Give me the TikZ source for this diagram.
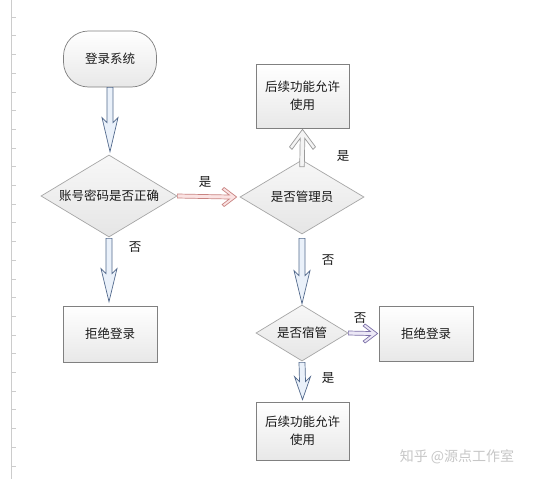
\documentclass[tikz,border=0pt]{standalone}
\usepackage{fontspec}
\newfontfamily\cjk{Noto Sans CJK SC}
\usetikzlibrary{shapes.geometric,calc}
\definecolor{boxline}{HTML}{808080}
\definecolor{dline}{HTML}{A6A6A6}
\definecolor{bluel}{HTML}{52698C}
\definecolor{bluef}{HTML}{EAF1FA}
\definecolor{redl}{HTML}{C98482}
\definecolor{redf}{HTML}{FBE3E3}
\definecolor{grayl}{HTML}{9A9A9A}
\definecolor{grayf}{HTML}{F4F4F4}
\definecolor{purl}{HTML}{7C70A8}
\definecolor{purf}{HTML}{ECE8F6}
\definecolor{txt}{HTML}{1A1A1A}
\definecolor{ruler}{HTML}{CCCCCC}
\newcommand\blockdown[3]{\draw[bluearr] ($(#1)+(-3,0)$) -- ($(#2)+(-3,-#3+5)$) -- ($(#2)+(-8,-#3)$) -- (#2) -- ($(#2)+(8,-#3)$) -- ($(#2)+(3,-#3+5)$) -- ($(#1)+(3,0)$) -- cycle;}
\newcommand\chevright[3]{\draw[#3] ($(#1)+(0,-2)$) -- ($(#2)+(-7.3,-2)$) -- ($(#2)+(-14.5,-7.5)$) -- ($(#2)+(-12.5,-9.5)$) -- (#2) -- ($(#2)+(-12.5,9.5)$) -- ($(#2)+(-14.5,7.5)$) -- ($(#2)+(-7.3,2)$) -- ($(#1)+(0,2)$) -- cycle;}
\newcommand\chevup[3]{\draw[#3] ($(#1)+(-2.3,0)$) -- ($(#2)+(-2.3,9)$) -- ($(#2)+(-10.5,20)$) -- ($(#2)+(-13,17.5)$) -- (#2) -- ($(#2)+(13,17.5)$) -- ($(#2)+(10.5,20)$) -- ($(#2)+(2.3,9)$) -- ($(#1)+(2.3,0)$) -- cycle;}
\begin{document}
\begin{tikzpicture}[x=1pt,y=-1pt,
  every node/.style={font=\cjk\fontsize{12.5}{16}\selectfont, text=txt},
  procbox/.style={draw=boxline, line width=0.7pt, top color=white, bottom color=black!9, minimum width=93pt, inner sep=0pt, align=center},
  startbox/.style={procbox, rounded corners=25pt, minimum height=56pt},
  dshape/.style={diamond, draw=dline, line width=0.7pt, top color=black!3, bottom color=black!10, inner sep=0pt},
  lbl/.style={inner sep=0pt},
  yn/.style={inner sep=0pt},
  bluearr/.style={draw=bluel, line width=0.7pt, fill=bluef, line join=miter},
  redarr/.style={draw=redl, line width=0.7pt, fill=redf},
  grayarr/.style={draw=grayl, line width=0.7pt, fill=grayf},
  purarr/.style={draw=purl, line width=0.7pt, fill=purf}]
\useasboundingbox (0,0) rectangle (535,479);
\fill[white] (0,0) rectangle (535,479);
% ruler
\draw[ruler, line width=0.8pt] (11,0) -- (11,479);
\foreach \k in {0,...,25} { \draw[ruler, line width=0.6pt] (11,{17+18.7*\k}) -- (16,{17+18.7*\k}); }
% nodes
\node[startbox] (start) at (110,59) {登录系统};
\node[dshape, minimum width=136pt, minimum height=82pt] (d1) at (109,196) {};
\node[lbl] (d1t) at (d1) {账号密码是否正确};
\node[procbox, minimum width=94pt, minimum height=56pt] (rej1) at (110,334) {拒绝登录};
\node[dshape, minimum width=124pt, minimum height=74pt] (d2) at (302,197) {};
\node[lbl] (d2t) at (d2) {是否管理员};
\node[procbox, minimum height=64pt] (top) at (302.5,96) {后续功能允许\\[2pt]使用};
\node[dshape, minimum width=92pt, minimum height=56pt] (d3) at (302,333) {};
\node[lbl] (d3t) at (d3) {是否宿管};
\node[procbox, minimum width=94pt, minimum height=55pt] (rej2) at (426,333.5) {拒绝登录};
\node[procbox, minimum height=58pt] (bot) at (302.5,431) {后续功能允许\\[2pt]使用};
% connector end points
\coordinate (t1) at ($(start.south |- d1.north)+(0,-3)$);
\coordinate (s2) at ($(d1.south)+(0,1)$);
\coordinate (t2) at ($(d1.south |- rej1.north)+(0,-4)$);
\coordinate (t3) at ($(d2.west)+(-3,0)$);
\coordinate (s4) at ($(d2.north)+(0,7)$);
\coordinate (t4) at ($(top.south)+(0,1)$);
\coordinate (s5) at ($(d2.south)+(0,4)$);
\coordinate (t5) at ($(d3.north)+(0,-1)$);
\coordinate (t6) at ($(rej2.west)+(-1,0)$);
\coordinate (s7) at ($(d3.south)+(0,1)$);
\coordinate (t7) at ($(bot.north)+(0,-2)$);
% connectors
\blockdown{start.south}{t1}{34}
\blockdown{s2}{t2}{33}
\chevright{d1.east}{t3}{redarr}
\chevup{s4}{t4}{grayarr}
\blockdown{s5}{t5}{33}
\chevright{d3.east}{t6}{purarr}
\blockdown{s7}{t7}{23}
% labels
\node[yn] at (205,182) {是};
\node[yn] at (135,247) {否};
\node[yn] at (343,156) {是};
\node[yn] at (328,260) {否};
\node[yn] at (360,318) {否};
\node[yn] at (328,378) {是};
% watermark
\node[font=\cjk\fontsize{14}{16}\selectfont, text=black!22, inner sep=0pt] (wm) at (457,457) {知乎 @源点工作室};
\end{tikzpicture}
\end{document}
